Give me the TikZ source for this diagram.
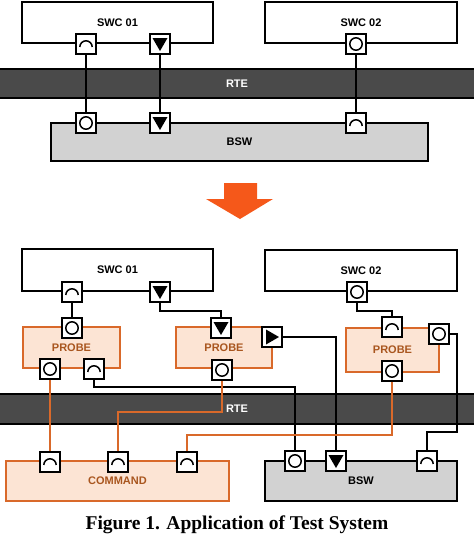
\documentclass[tikz,border=0pt]{standalone}
\usepackage{fontspec}
\setmainfont{Liberation Serif}
\newfontfamily\lblfont{Liberation Sans}
\usetikzlibrary{calc}
\definecolor{orgline}{HTML}{D9692A}
\definecolor{orgfill}{HTML}{FCE4D4}
\definecolor{orgtext}{HTML}{A9561F}
\definecolor{rtegray}{HTML}{4A4A4A}
\definecolor{bswgray}{HTML}{D2D2D2}
\definecolor{arrowc}{HTML}{F5581A}
\begin{document}
\begin{tikzpicture}[x=1pt,y=-1pt,
  box/.style={draw=black, line width=1.5pt, fill=white, inner sep=0pt,
    font=\lblfont\bfseries\fontsize{11}{13}\selectfont},
  bswbox/.style={box, fill=bswgray},
  probebox/.style={box, draw=orgline, fill=orgfill, text=orgtext},
  rtebar/.style={box, fill=rtegray, text=white},
  port/.style={draw=black, fill=white, line width=1.6pt, minimum size=20pt, inner sep=0pt},
  portO/.style={port, path picture={\draw[black, line width=1.5pt] (path picture bounding box.center) circle (6.2pt);}},
  portA/.style={port, path picture={\draw[black, line width=1.5pt] ([xshift=-6.2pt,yshift=-3pt]path picture bounding box.center) arc[start angle=180,end angle=0,radius=6.2pt];}},
  portD/.style={port, path picture={\fill[black] ([shift={(-7.5pt,6pt)}]path picture bounding box.center) -- ++(15pt,0pt) -- ++(-7.5pt,-13pt) -- cycle;}},
  portR/.style={port, path picture={\fill[black] ([shift={(-6pt,7.5pt)}]path picture bounding box.center) -- ++(0pt,-15pt) -- ++(13pt,7.5pt) -- cycle;}},
  conn/.style={draw=black, line width=1.3pt},
  oconn/.style={draw=orgline, line width=1.5pt}
]
\useasboundingbox (0,0) rectangle (474,536);

% ---------- top part ----------
\node[rtebar, minimum width=476pt, minimum height=29pt] (rteA) at (237,83.5) {RTE};
\node[box, minimum width=191pt, minimum height=41pt] (swcA1) at (117.5,22.5) {SWC 01};
\node[box, minimum width=192pt, minimum height=41pt] (swcA2) at (361,22.5) {SWC 02};
\node[bswbox, minimum width=377pt, minimum height=38pt] (bswA) at (239.5,142) {BSW};

\node[portA] (a1) at (86,44) {};
\node[portD] (a2) at (160,44) {};
\node[portO] (a3) at (356,44) {};
\node[portO] (b1) at (86,123) {};
\node[portD] (b2) at (160,123) {};
\node[portA] (b3) at (356,123) {};

\draw[conn] (a1.south) -- (b1.north);
\draw[conn] (a2.south) -- (b2.north);
\draw[conn] (a3.south) -- (b3.north);

% ---------- arrow ----------
\fill[arrowc] (224,183) -- (257,183) -- (257,199) -- (273,199) -- (240,219) -- (206,199) -- (224,199) -- cycle;

% ---------- bottom part ----------
\node[rtebar, minimum width=476pt, minimum height=30pt] (rteB) at (237,409) {RTE};
\node[box, minimum width=191pt, minimum height=42pt] (swcB1) at (117.5,270) {SWC 01};
\node[box, minimum width=192pt, minimum height=41pt] (swcB2) at (361,270.5) {SWC 02};
\node[probebox, minimum width=97pt, minimum height=41pt] (pr1) at (71.5,347.5) {PROBE};
\node[probebox, minimum width=96pt, minimum height=41pt] (pr2) at (224,347.5) {PROBE};
\node[probebox, minimum width=93pt, minimum height=44pt] (pr3) at (392.5,350) {PROBE};
\node[probebox, minimum width=223pt, minimum height=40pt] (cmd) at (117.5,481) {COMMAND};
\node[bswbox, minimum width=192pt, minimum height=40pt] (bswB) at (361,481) {BSW};

% ports
\node[portA] (s1a) at (72,292) {};
\node[portD] (s1d) at (160,292) {};
\node[portO] (s2o) at (357,292) {};

\node[portO] (p1t) at (72,328) {};
\node[portO] (p1o) at (50,369) {};
\node[portA] (p1a) at (94,369) {};

\node[portD] (p2t) at (221,328) {};
\node[portR] (p2r) at (272,337) {};
\node[portO] (p2o) at (222,370) {};

\node[portA] (p3t) at (392,327) {};
\node[portO] (p3r) at (439,334) {};
\node[portO] (p3o) at (392,371) {};

\node[portA] (c1) at (50,462) {};
\node[portA] (c2) at (118,462) {};
\node[portA] (c3) at (187,462) {};

\node[portO] (bo) at (295,461) {};
\node[portD] (bd) at (336,461) {};
\node[portA] (ba) at (427,461) {};

% connectors
\draw[conn] (s1a.south) -- (p1t.north);
\draw[conn] (s1d.south) -- (s1d.south |- 0,311) -| (p2t.north);
\draw[conn] (s2o.south) -- (s2o.south |- 0,311) -| (p3t.north);

\draw[oconn] (p1o.south) -- (c1.north);
\draw[conn] (p1a.south) -- (p1a.south |- 0,387) -| (bo.north);
\draw[oconn] (p2o.south) -- (p2o.south |- 0,412) -| (c2.north);
\draw[conn] (p2r.east) -| (bd.north);
\draw[oconn] (p3o.south) -- (p3o.south |- 0,435) -| (c3.north);
\coordinate (p3turn) at (457,432);
\draw[conn] (p3r.east) -| (p3turn) -| (ba.north);

% caption
\node[font=\bfseries\fontsize{19.5}{22}\selectfont] (cap) at (237,525) {Figure 1. Application of Test System};
\end{tikzpicture}
\end{document}
